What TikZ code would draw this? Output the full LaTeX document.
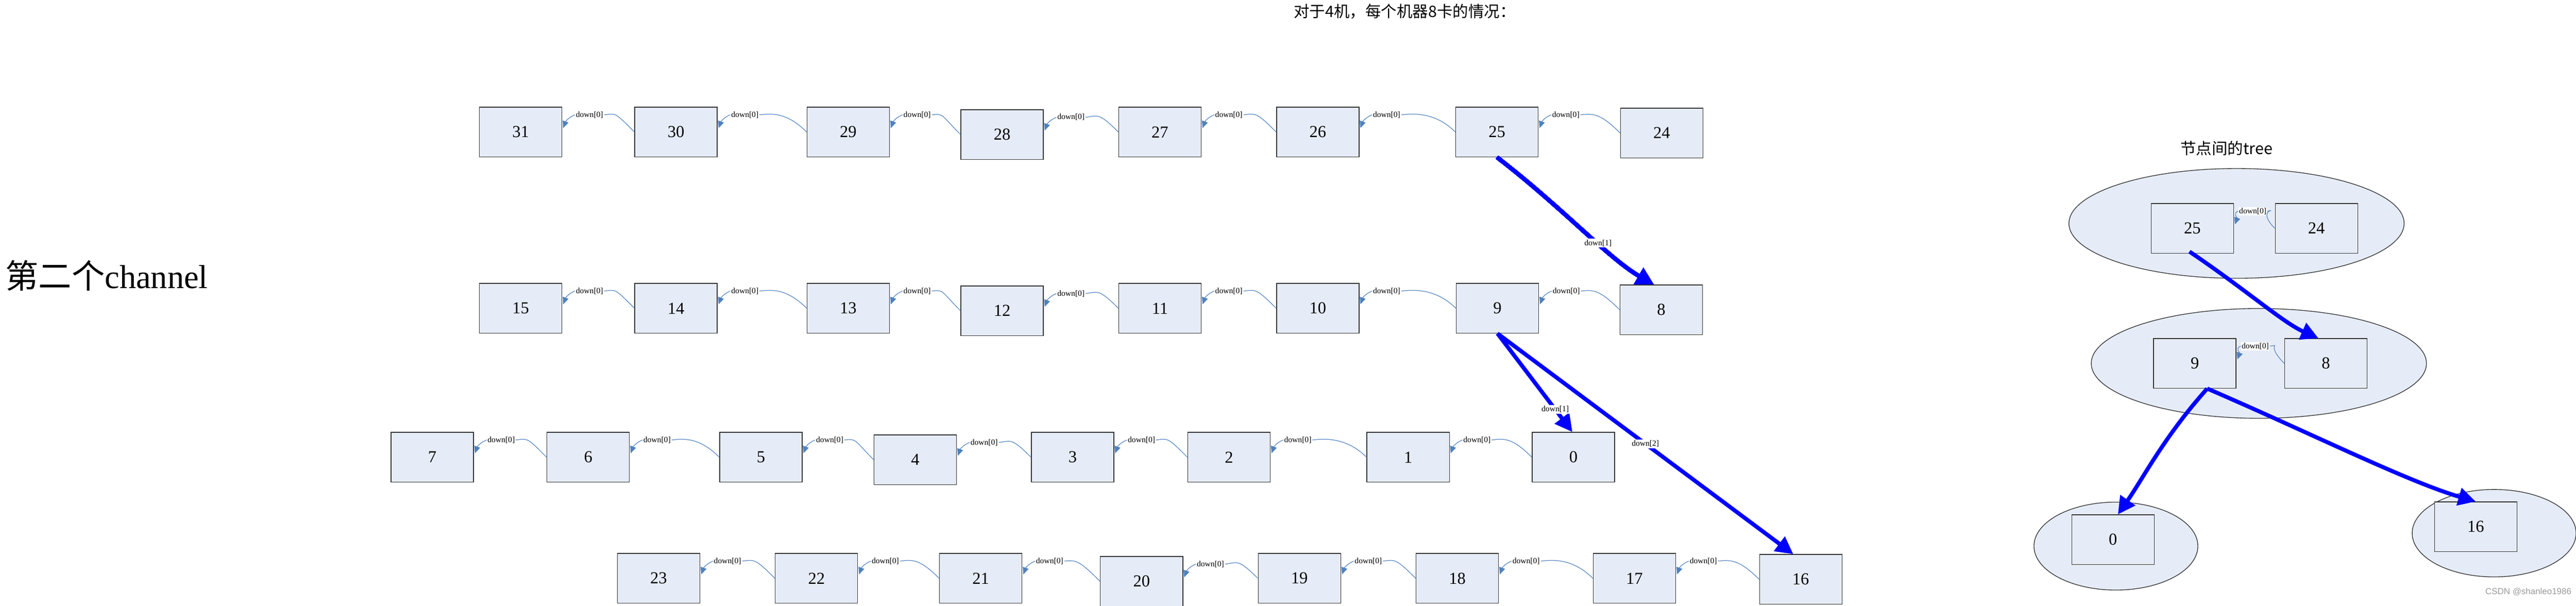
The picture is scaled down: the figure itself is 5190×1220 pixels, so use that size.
\documentclass[tikz,border=0pt]{standalone}
\usepackage{fontspec}
\setmainfont{Liberation Serif}
\newfontfamily\cjk{Noto Sans CJK SC}
\newfontfamily\wm{Liberation Sans}
\usetikzlibrary{calc,arrows.meta,shapes.geometric}
\definecolor{boxc}{HTML}{E6ECF7}
\definecolor{linkc}{HTML}{4F81BD}
\tikzset{
 x=0.01cm,y=-0.01cm,
 box/.style={draw=black!80,fill=boxc,minimum width=1.66cm,minimum height=1cm,inner sep=0,font=\fontsize{9.6}{10}\selectfont},
 lbl/.style={font=\fontsize{4.6}{5}\selectfont,inner sep=0.4pt},
 link/.style={draw=linkc,line width=0.35pt},
 big/.style={draw=blue,line width=2.3pt,-{Triangle[length=10pt,width=10pt]}},
 bl/.style={font=\fontsize{4.6}{5}\selectfont,fill=white,inner sep=0.6pt},
 ell/.style={draw=black!80,fill=boxc,ellipse,inner sep=0},
}
\newcommand\dlink[3][55]{%
 \node[lbl] (#2-#3) at ($(#2.north east)+(#1,16)$) {down[0]};
 \draw[link] (#3.west) .. controls +(-40,-40) and +(25,-3) .. (#2-#3.east);
 \draw[link,-{Triangle[length=4pt,width=3.5pt]}] (#2-#3.west) .. controls +(-12,5) and +(5,-14) .. ($(#2.east)+(2,-8)$);
}
\begin{document}
\begin{tikzpicture}
\useasboundingbox (0,0) rectangle (5190,1220);
\node[font=\cjk\fontsize{9}{10}\selectfont] (title) at (2830,23) {对于4机，每个机器8卡的情况：};
\node[font=\fontsize{19}{20}\selectfont,inner sep=0] (left) at (215,555) {{\cjk 第二个}channel};
\foreach \n/\x/\y in {31/1049/266,30/1362/266,29/1709/266,28/2019/271,27/2337/266,26/2655/266,25/3016/266,24/3348/268,
 15/1049/621,14/1362/621,13/1709/621,12/2019/626,11/2337/621,10/2655/621,9/3017/621,8/3347/624,
 7/871/921,6/1185/921,5/1533/921,4/1844/926,3/2161/921,2/2476/921,1/2837/921,0/3170/921,
 23/1327/1165,22/1645/1165,21/1976/1165,20/2300/1171,19/2618/1165,18/2936/1165,17/3293/1165,16/3628/1167}
 \node[box] (n\n) at (\x,\y) {\n};
\foreach \a/\b in {31/30,30/29,29/28,28/27,27/26,26/25,25/24,15/14,14/13,13/12,12/11,11/10,10/9,9/8,
 7/6,6/5,5/4,4/3,3/2,2/1,1/0,23/22,22/21,21/20,20/19,19/18,18/17,17/16}
 \dlink{n\a}{n\b}
\draw[big] (n25.south) .. controls (3150,420) and (3240,520) .. ($(n8.north)+(-15,0)$) node[bl,pos=0.6] {down[1]};
\draw[big] (n9.south) -- ($(n0.north)+(-2,0)$) node[bl,pos=0.77] {down[1]};
\draw[big] (n9.south) -- ($(n16.north)+(-15,0)$) node[bl,pos=0.5] {down[2]};
% tree
\node[font=\cjk\fontsize{9}{10}\selectfont] (ttitle) at (4486,299) {节点间的tree};
\node[ell,minimum width=6.75cm,minimum height=2.21cm] (e1) at (4506,450) {};
\node[ell,minimum width=6.75cm,minimum height=2.21cm] (e2) at (4551,732) {};
\node[ell,minimum width=3.3cm,minimum height=1.77cm] (e3) at (4263,1100) {};
\node[ell,minimum width=3.3cm,minimum height=1.76cm] (e4) at (5025,1074) {};
\node[box] (t25) at (4417,460) {25};
\node[box] (t24) at (4667,460) {24};
\node[box] (t9) at (4422,732) {9};
\node[box] (t8) at (4686,732) {8};
\node[box] (t0) at (4257,1087) {0};
\node[box] (t16) at (4988,1061) {16};
\tikzset{lbl/.append style={fill=white}}
\dlink[38]{t25}{t24}
\dlink[38]{t9}{t8}
\draw[big,shorten <=-2pt] (t25.south) .. controls (4520,580) and (4600,650) .. ($(t8.north)+(-15,0)$);
\draw[big] ($(t9.south)+(25,0)$) .. controls (4360,880) and (4320,960) .. ($(t0.north)+(10,0)$);
\draw[big] ($(t9.south)+(25,0)$) .. controls (4650,870) and (4850,970) .. (t16.north);
\node[font=\wm\fontsize{5}{6}\selectfont,text=black!40] (wmk) at (5094,1192) {CSDN @shanleo1986};
\end{tikzpicture}
\end{document}
